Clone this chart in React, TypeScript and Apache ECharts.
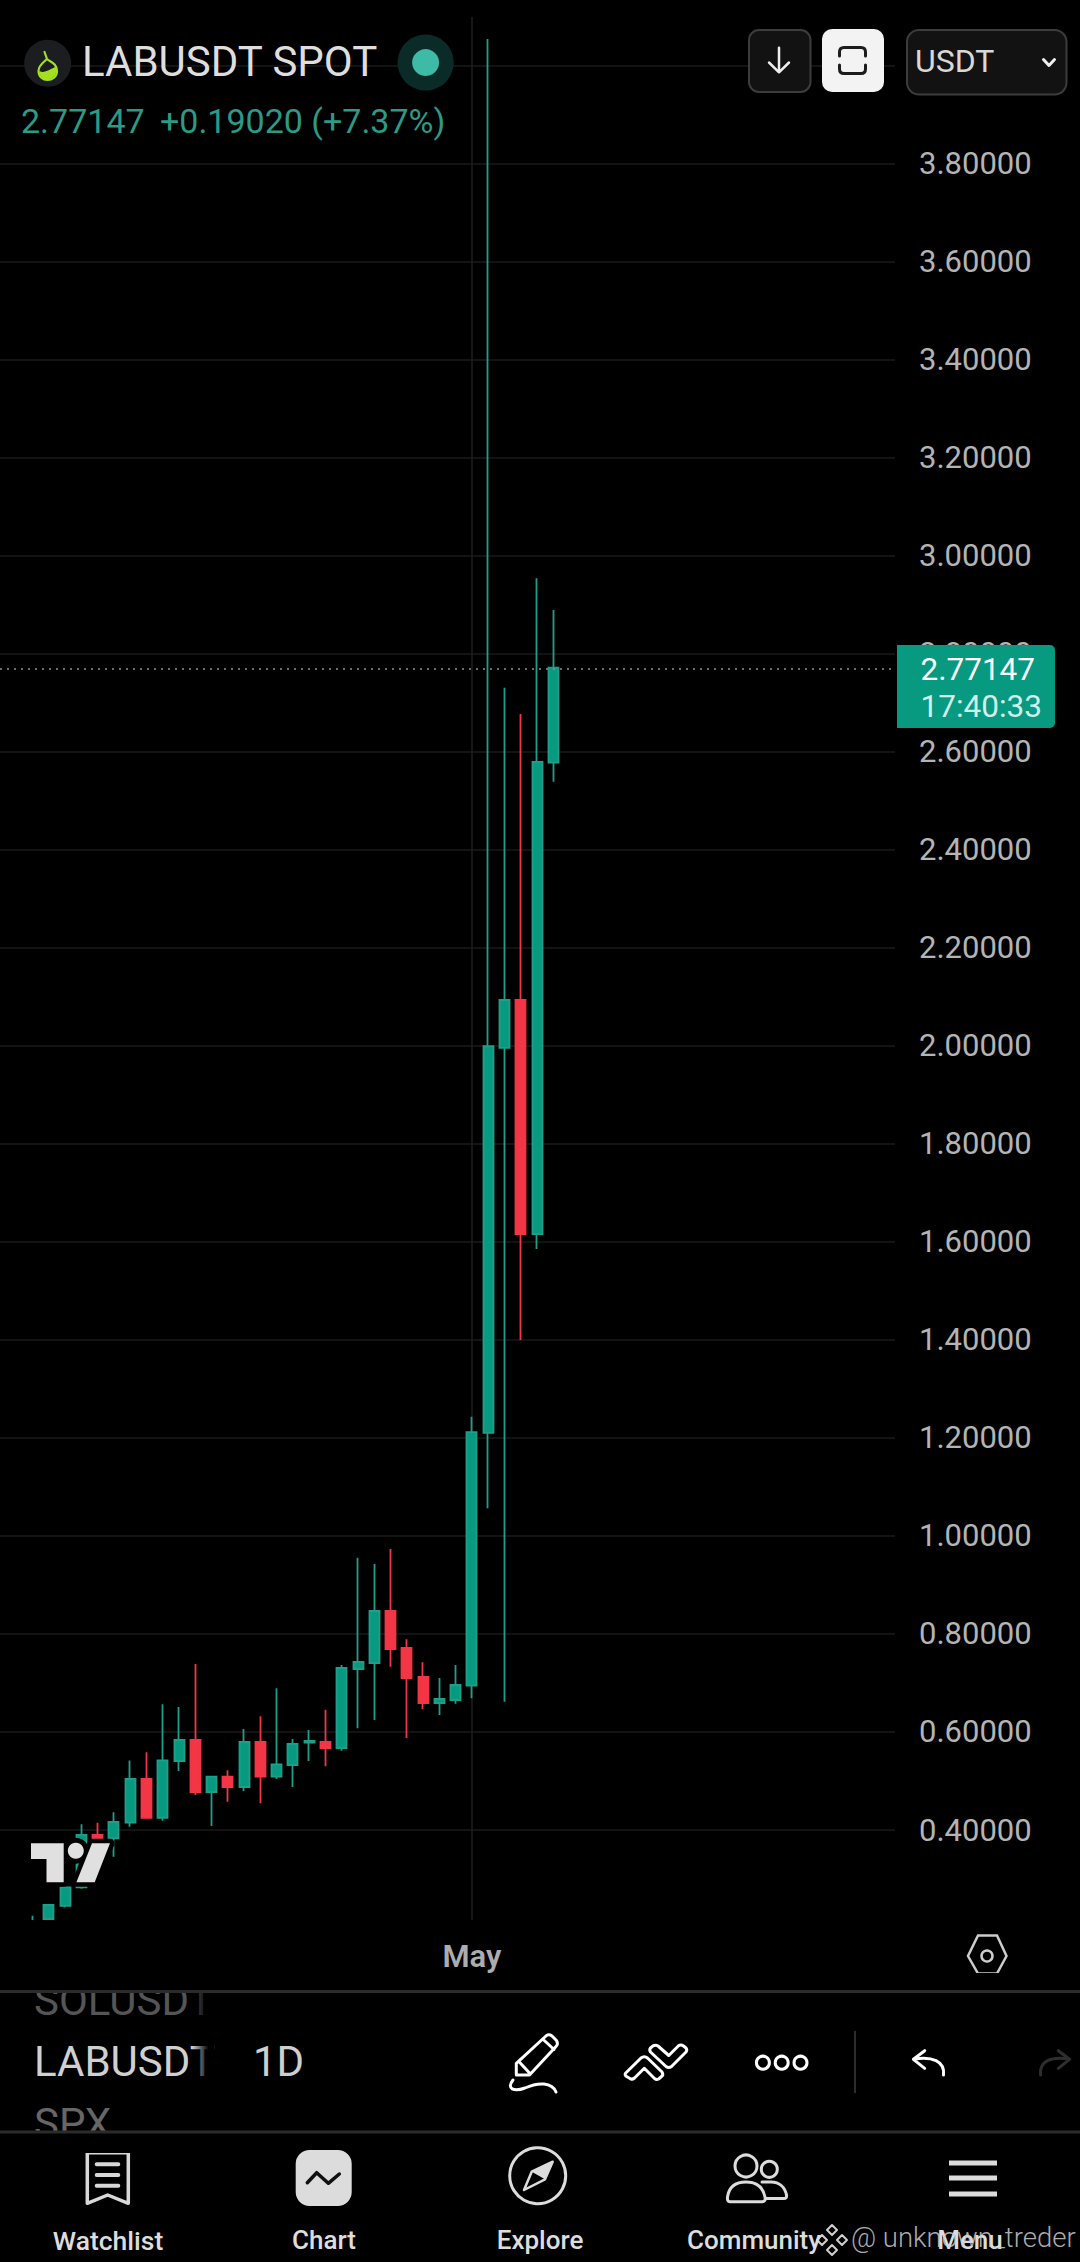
import React, { useEffect, useRef } from "react";
import * as echarts from "echarts";

const leadDates = ["Apr 2", "Apr 3"];
const candleDates = ["Apr 4","Apr 5","Apr 6","Apr 7","Apr 8","Apr 9","Apr 10","Apr 11","Apr 12","Apr 13","Apr 14","Apr 15","Apr 16","Apr 17","Apr 18","Apr 19","Apr 20","Apr 21","Apr 22","Apr 23","Apr 24","Apr 25","Apr 26","Apr 27","Apr 28","Apr 29","Apr 30","May 1","May 2","May 3","May 4","May 5","May 6"];
const tailDates = ["May 7","May 8","May 9","May 10","May 11","May 12","May 13","May 14","May 15","May 16","May 17","May 18","May 19","May 20","May 21","May 22","May 23","May 24","May 25","May 26","May 27"];

const opens  = [0.20,0.2184,0.245,0.283,0.39,0.383,0.415,0.504,0.425,0.5408,0.5836,0.4775,0.5088,0.4877,0.5795,0.5088,0.5326,0.5782,0.5795,0.5673,0.7285,0.7407,0.8468,0.7713,0.7121,0.6591,0.6652,0.6945,1.2105,1.9955,2.0934,1.616,2.5776];
const closes = [0.21,0.247,0.283,0.39,0.383,0.4163,0.504,0.425,0.542,0.5836,0.4775,0.5088,0.4877,0.5795,0.5088,0.534,0.5755,0.5816,0.5673,0.7305,0.7428,0.8468,0.7693,0.7101,0.6591,0.6673,0.6958,1.2118,1.999,2.0934,1.616,2.579,2.77147];
const lows   = [0.19,0.2184,0.242,0.28,0.38,0.3456,0.4068,0.425,0.419,0.5204,0.4714,0.408,0.4578,0.4796,0.4544,0.504,0.4877,0.5408,0.53,0.5618,0.6074,0.6244,0.7332,0.5877,0.6469,0.6346,0.6577,0.6686,1.0563,0.6618,1.3997,1.5854,2.5388];
const highs  = [0.2252,0.249,0.284,0.4116,0.415,0.436,0.542,0.5585,0.6564,0.651,0.7387,0.5102,0.5217,0.606,0.632,0.689,0.5857,0.604,0.6455,0.7366,0.9556,0.9427,0.9733,0.789,0.7421,0.7101,0.7366,1.243,4.054,2.7305,2.677,2.954,2.889];

const gridTicks = [0.4,0.6,0.8,1.0,1.2,1.4,1.6,1.8,2.0,2.2,2.4,2.6,2.8,3.0,3.2,3.4,3.6,3.8,4.0];
const labelTicks = [0.4,0.6,0.8,1.0,1.2,1.4,1.6,1.8,2.0,2.2,2.4,2.6,2.8,3.0,3.2,3.4,3.6,3.8];
const lastPrice = 2.77147;

const UP = "#089981";
const UP_WICK = "#1f9f8a";
const DOWN = "#F23645";
const FONT = "Roboto, sans-serif";

const ICONS: Record<string, string> = {
  ic_pencil: "M516.3 2075 L516.3 2063.3 L546.5 2035.5 Q549 2034 552 2036 L556.5 2040.5 Q558.5 2044 556 2046.5 L529.5 2075 Z M542.7 2039 L554 2049.5 M520 2062.7 L529.5 2073",
  ic_squiggle: "M513 2080 C506 2089 514 2092 525 2088 C538 2082 552 2082 556 2092",
  ic_chev1: "M625.5 2073.3 L641 2058 Q644.3 2055.5 647.5 2058 L662 2072 Q664 2075 661 2077 L658.5 2079 Q656.5 2080 654.5 2078.5 L644.3 2068.3 L634.5 2078 Q632 2080 630 2078.5 L626.5 2076.5 Q624.5 2075 625.5 2073.3 Z",
  ic_chev2: "M650.5 2048 L653 2045.8 Q655.6 2044.5 658 2046 L668.8 2055.5 L678.5 2045.8 Q681 2044 683.5 2046 L686 2048 Q687.5 2050 686 2052 L671.5 2066.5 Q668.8 2068.5 666 2066.5 L650.5 2052 Q649 2050 650.5 2048 Z",
  ic_undo: "M924.7 2050.7 L913.4 2059.3 L924.7 2068.3 M913.4 2059.3 C932 2056 945 2061 943.5 2075",
  ic_redo: "M1058.3 2050.7 L1069.6 2059.3 L1058.3 2068.3 M1069.6 2059.3 C1051 2056 1039 2061 1040.6 2075",
  ic_down: "M779 47.7 L779 72.3 M769 62.5 L779 72.3 L789 62.5",
  ic_bracket: "M839.5 56 L839.5 52 Q839.5 47.5 844 47.5 L861 47.5 Q865.5 47.5 865.5 52 L865.5 56 M839.5 65 L839.5 69 Q839.5 73.5 844 73.5 L861 73.5 Q865.5 73.5 865.5 69 L865.5 65",
  ic_chevron: "M1043.5 59.5 L1049 65.5 L1054.5 59.5",
  ic_book: "M87.3 2152.7 L128.3 2152.7 L128.3 2203.3 L107.7 2195 L87.3 2203.3 Z",
  ic_booklines: "M96.7 2164.3 L118.3 2164.3 M96.7 2175 L118.3 2175 M96.7 2185.7 L118.3 2185.7",
  ic_zig: "M307.3 2182.7 L316.7 2172.7 L328.3 2183.3 L339.3 2174",
  ic_needle: "M552.7 2161.7 L531.7 2171.7 L524 2190 L545 2179.3 Z",
  ic_needlefill: "M552.7 2161.7 L531.7 2171.7 L545 2179.3 Z",
  ic_bodybig: "M730 2201.7 L762 2201.7 Q766 2201.7 765 2197 C763 2187 757 2182 746 2182 C735 2182 729 2187 727.5 2197 Q727 2201.7 730 2201.7 Z",
  ic_bodysmall: "M762 2182 L771 2182 C780 2182 785 2188 786.5 2195 Q787 2198.5 784 2198.5 L766 2198.5",
  ic_tvT: "M31 1843.3 L63.7 1843.3 L63.7 1882.3 L46.5 1882.3 L46.5 1859 L31 1859 Z",
  ic_tvS: "M110 1843.3 L94.7 1882.3 L76.4 1882.3 L92 1843.3 Z",
  ic_flask: "M44.5 52 L47 59 M47 59 C50 62 57 63 57 71 C57 77 52 80 47.5 80 C43 80 38.5 77 38.5 71 C38.5 65 44 62 47 59",
  ic_liquid: "M39.5 71 C44 74 50 69 56.5 66.5 C57.5 74 53 79.5 47.5 79.5 C43 79.5 39.5 76 39.5 71 Z",
  ic_binance: "M832 2225 L837 2230 L832 2235 L827 2230 Z M822 2235 L827 2240 L822 2245 L817 2240 Z M842 2235 L847 2240 L842 2245 L837 2240 Z M832 2245 L837 2250 L832 2255 L827 2250 Z",
};
Object.keys(ICONS).forEach((k) => {
  echarts.graphic.registerShape(k, echarts.graphic.extendPath(ICONS[k], {}));
});

const stroke = (type: string, color: string, lineWidth = 3, fill = "none") => ({
  type,
  silent: true,
  z: 100,
  style: { fill, stroke: color, lineWidth, lineCap: "round", lineJoin: "round" },
});
const txt = (text: string, x: number, y: number, size: number, fill: string, align = "left", weight = "400") => ({
  type: "text",
  silent: true,
  z: 110,
  x,
  y,
  style: { text, fill, font: `${weight} ${size}px ${FONT}`, textAlign: align, textVerticalAlign: "middle" },
});
const rect = (x: number, y: number, width: number, height: number, fill: any, extra: any = {}, r: any = 0, z = 100) => ({
  type: "rect",
  silent: true,
  z,
  shape: { x, y, width, height, r },
  style: { fill, ...extra },
});
const circle = (cx: number, cy: number, r: number, style: any, z = 100) => ({
  type: "circle",
  silent: true,
  z,
  shape: { cx, cy, r },
  style,
});

const overlay: any[] = [
  // header
  circle(47.7, 63.3, 23.5, { fill: "#1b1d20" }),
  { ...stroke("ic_flask", "#a4e021", 2.2), z: 101 },
  { ...stroke("ic_liquid", "#a4e021", 0, "#a4e021"), z: 101 },
  txt("LABUSDT SPOT", 82, 61, 42, "#dedede"),
  circle(425.6, 62.6, 28, { fill: "#0b2b28" }),
  circle(425.6, 62.6, 13.5, { fill: "#3dbba6" }),
  txt("2.77147", 21, 121, 34, "#2c9a85"),
  txt("+0.19020 (+7.37%)", 160, 121, 34, "#2c9a85"),
  rect(749, 30, 61.5, 62, "#121212", { stroke: "#3c3c3c", lineWidth: 2 }, 10),
  stroke("ic_down", "#eeeeee", 2.5),
  rect(822, 29, 62, 63, "#f3f3f3", {}, 10),
  stroke("ic_bracket", "#1c1c1c", 3),
  rect(907, 30, 159.5, 64.5, "#121212", { stroke: "#3c3c3c", lineWidth: 2 }, 12),
  txt("USDT", 915, 60.5, 32, "#d8d8d8"),
  stroke("ic_chevron", "#eeeeee", 3),
  // price tag
  rect(897, 645, 158, 83, UP, {}, [0, 5, 5, 0]),
  txt("2.77147", 920.5, 669, 31.5, "#ffffff"),
  txt("17:40:33", 920.5, 706, 31.5, "#d2f0ea"),
  // mask under the plot area
  rect(0, 1920, 880, 20, "#000000", {}, 0, 50),
  // TradingView logo
  stroke("ic_tvT", "#000000", 9, "#000000"),
  stroke("ic_tvS", "#000000", 9, "#000000"),
  circle(75.8, 1850.7, 13, { fill: "#000000" }),
  { ...stroke("ic_tvT", "#e0e0e0", 0, "#e0e0e0"), z: 101 },
  { ...stroke("ic_tvS", "#e0e0e0", 0, "#e0e0e0"), z: 101 },
  circle(75.8, 1850.7, 8, { fill: "#e0e0e0" }, 101),
  // settings hexagon
  { type: "polygon", silent: true, z: 100, shape: { points: [[978, 1935.5], [997, 1935.5], [1006.5, 1956], [997, 1973.5], [978, 1973.5], [968, 1956]] }, style: { fill: "none", stroke: "#cccccc", lineWidth: 2.5 } },
  circle(987, 1956, 5.5, { fill: "none", stroke: "#cccccc", lineWidth: 2.5 }),
  // toolbar
  txt("SOLUSDT", 34, 2000, 42, "#555555"),
  txt("SPX", 34, 2123, 42, "#666666"),
  rect(0, 1973, 1080, 18, "#000000", {}, 0, 120),
  rect(0, 2133, 300, 20, "#000000", {}, 0, 120),
  rect(0, 1990, 1080, 3, "#2b2b2b", {}, 0, 121),
  rect(0, 2130.5, 1080, 3, "#2b2b2b", {}, 0, 121),
  txt("LABUSDT", 34, 2061, 42, "#d0d0d0"),
  rect(192, 1993, 22, 137, new echarts.graphic.LinearGradient(0, 0, 1, 0, [{ offset: 0, color: "rgba(0,0,0,0)" }, { offset: 0.75, color: "#000000" }, { offset: 1, color: "#000000" }]), {}, 0, 115),
  txt("1D", 253, 2061, 42, "#cfcfcf"),
  stroke("ic_pencil", "#ffffff", 3),
  stroke("ic_squiggle", "#ffffff", 3),
  stroke("ic_chev1", "#ffffff", 3),
  stroke("ic_chev2", "#ffffff", 3),
  circle(762.9, 2062.7, 6.5, { fill: "none", stroke: "#ffffff", lineWidth: 3 }),
  circle(781.7, 2062.7, 6.5, { fill: "none", stroke: "#ffffff", lineWidth: 3 }),
  circle(800.5, 2062.7, 6.5, { fill: "none", stroke: "#ffffff", lineWidth: 3 }),
  rect(854, 2031, 2, 62, "#2c2c2c"),
  stroke("ic_undo", "#ffffff", 3),
  stroke("ic_redo", "#2e2e2e", 3),
  // nav bar
  stroke("ic_book", "#d8d8d8", 3.5),
  stroke("ic_booklines", "#d8d8d8", 4),
  rect(295.7, 2150, 56, 56, "#dcdcdc", {}, 14),
  stroke("ic_zig", "#111111", 3.5),
  circle(537.7, 2175.7, 28, { fill: "none", stroke: "#dcdcdc", lineWidth: 3 }),
  stroke("ic_needle", "#dcdcdc", 2.5),
  stroke("ic_needlefill", "#dcdcdc", 0, "#dcdcdc"),
  circle(746, 2166, 11, { fill: "none", stroke: "#dcdcdc", lineWidth: 3 }),
  circle(769.3, 2169.3, 8, { fill: "none", stroke: "#dcdcdc", lineWidth: 3 }),
  stroke("ic_bodybig", "#dcdcdc", 3),
  stroke("ic_bodysmall", "#dcdcdc", 3),
  rect(949, 2160.5, 48, 5, "#dcdcdc"),
  rect(949, 2175.5, 48, 5, "#dcdcdc"),
  rect(949, 2191.5, 48, 5, "#dcdcdc"),
  txt("Watchlist", 108, 2240, 26.5, "#dddddd", "center", "500"),
  txt("Chart", 324, 2240, 26, "#dddddd", "center", "500"),
  txt("Explore", 540, 2240, 26, "#dddddd", "center", "500"),
  txt("Community", 754, 2240, 26, "#dddddd", "center", "500"),
  txt("Menu", 970, 2240, 26, "#dddddd", "center", "500"),
  stroke("ic_binance", "#cfcfcf", 2),
  txt("@ unknown_treder", 851, 2237, 27.5, "rgba(205,205,205,0.85)", "left", "300"),
];

export default function App() {
  const ref = useRef<HTMLDivElement>(null);
  useEffect(() => {
    document.body.style.margin = "0";
    document.body.style.background = "#000";
    const chart = echarts.init(ref.current!, undefined, { renderer: "svg" });
    const pad = leadDates.map(() => "-");
    const tail = tailDates.map(() => "-");
    const ohlc = candleDates.map((_, i) => [opens[i], closes[i], lows[i], highs[i]]);
    chart.setOption({
      animation: false,
      backgroundColor: "#000000",
      grid: { left: -0.57, top: 17, width: 895.57, height: 1903, containLabel: false },
      xAxis: {
        type: "category",
        boundaryGap: false,
        data: [...leadDates, ...candleDates, ...tailDates],
        axisLine: { show: false },
        axisTick: { show: false },
        axisLabel: {
          show: true,
          interval: (_: number, v: string) => v === "May 1",
          formatter: (v: string) => (v === "May 1" ? "May" : ""),
          color: "#adadad",
          fontFamily: FONT,
          fontWeight: 600,
          fontSize: 31,
          margin: 21,
        },
        splitLine: {
          show: true,
          interval: (_: number, v: string) => v === "May 1",
          lineStyle: { color: "#1e1e1e", width: 1.5 },
        },
      },
      yAxis: {
        type: "value",
        position: "right",
        min: 0.4 - 90 / 490.15,
        max: 0.4 + 1813 / 490.15,
        axisLine: { show: false },
        axisTick: { show: false, customValues: gridTicks },
        axisLabel: {
          color: "#b4b4b4",
          fontFamily: FONT,
          fontSize: 31,
          margin: 24,
          padding: [7, 0, 0, 0],
          customValues: labelTicks,
          formatter: (v: number) => v.toFixed(5),
        },
        splitLine: { show: true, lineStyle: { color: "#1a1a1a", width: 1.5 } },
      },
      series: [
        {
          type: "candlestick",
          barWidth: 10.5,
          data: [...pad, ...ohlc, ...tail],
          itemStyle: { color: UP, color0: DOWN, borderColor: UP_WICK, borderColor0: DOWN, borderWidth: 1.8 },
          markLine: {
            silent: true,
            symbol: "none",
            animation: false,
            label: { show: false },
            data: [{ yAxis: lastPrice }],
            lineStyle: { type: [2, 5], color: "#8f8f8f", width: 1.5 },
          },
        },
      ],
      graphic: { elements: overlay },
    });
    return () => chart.dispose();
  }, []);
  return <div ref={ref} style={{ position: "absolute", left: 0, top: 0, width: 1080, height: 2262 }} />;
}
